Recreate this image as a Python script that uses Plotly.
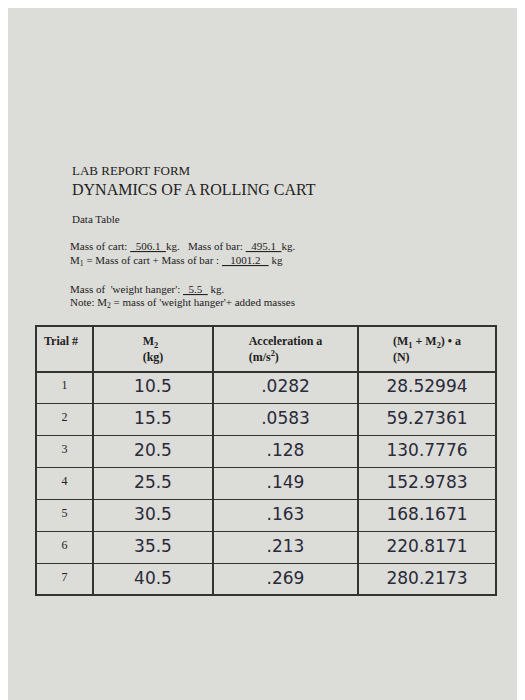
import plotly.graph_objects as go

# data read from the lab form
trials = ["1", "2", "3", "4", "5", "6", "7"]
m2_kg = ["10.5", "15.5", "20.5", "25.5", "30.5", "35.5", "40.5"]
accel = [".0282", ".0583", ".128", ".149", ".163", ".213", ".269"]
force = ["28.52994", "59.27361", "130.7776", "152.9783", "168.1671", "220.8171", "280.2173"]
headers = ["<b>Trial #</b>", "<b>M<sub>2</sub><br>(kg)</b>",
           "<b>Acceleration a<br>(m/s<sup>2</sup>)</b>", "<b>(M<sub>1</sub> + M<sub>2</sub>) • a<br>(N)</b>"]

paper = "#dcdcd8"
serif = "Liberation Serif"
hand = "DejaVu Sans"

fig = go.Figure()
fig.add_trace(go.Table(
    domain=dict(x=[28 / 525, 488 / 525], y=[1 - 592 / 700, 1 - 318 / 700]),
    columnwidth=[57, 120, 145, 138],
    header=dict(
        values=headers,
        fill_color=paper,
        line=dict(color="#333", width=2),
        font=dict(family=serif, size=12, color="#222"),
        align=["left", "center", "center", "center"],
        height=40,
    ),
    cells=dict(
        values=[trials, m2_kg, accel, force],
        fill_color=paper,
        line=dict(color="#333", width=1.5),
        font=dict(family=[serif, hand, hand, hand], size=[12, 17, 17, 17],
                  color=["#222", "#2a2a3a", "#2a2a3a", "#2a2a3a"]),
        align="center",
        height=32,
    ),
))

texts = [
    (62, 162, "LAB REPORT FORM", 13, serif),
    (62, 181, "DYNAMICS OF A ROLLING CART", 16, serif),
    (62, 211, "Data Table", 11, serif),
    (60, 238, "Mass of cart: <u>  506.1  </u>kg.   Mass of bar: <u>  495.1  </u>kg.", 11, serif),
    (60, 253, "M<sub>1</sub> = Mass of cart + Mass of bar : <u>   1001.2   </u> kg", 11, serif),
    (60, 281, "Mass of  'weight hanger': <u>  5.5  </u> kg.", 11, serif),
    (60, 295, "Note: M<sub>2</sub> = mass of 'weight hanger'+ added masses", 11, serif),
]
for x, y, t, s, f in texts:
    fig.add_annotation(x=x / 525, y=1 - y / 700, xref="paper", yref="paper",
                       text=t, showarrow=False, xanchor="left", yanchor="middle",
                       font=dict(family=f, size=s, color="#222"))

# closing bottom rule of the table
fig.add_shape(type="line", xref="paper", yref="paper",
              x0=28 / 525, x1=488 / 525, y0=1 - 587 / 700, y1=1 - 587 / 700,
              line=dict(color="#333", width=2))

fig.update_layout(
    width=525, height=700,
    margin=dict(l=0, r=0, t=0, b=0),
    paper_bgcolor=paper, plot_bgcolor=paper,
    xaxis=dict(visible=False), yaxis=dict(visible=False),
)
fig.write_html("out.html")
